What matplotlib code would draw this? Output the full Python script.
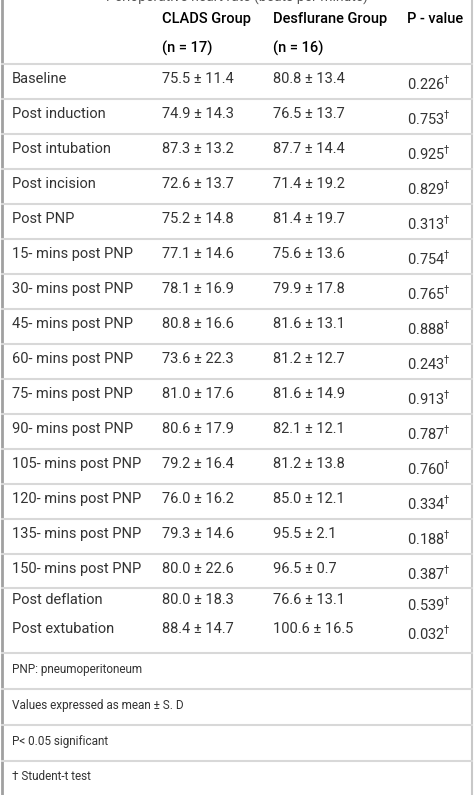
import matplotlib.pyplot as plt

plt.rcParams['font.family'] = ['Roboto', 'DejaVu Sans']

labels = ["Baseline", "Post induction", "Post intubation", "Post incision", "Post PNP",
          "15- mins post PNP", "30- mins post PNP", "45- mins post PNP", "60- mins post PNP",
          "75- mins post PNP", "90- mins post PNP", "105- mins post PNP", "120- mins post PNP",
          "135- mins post PNP", "150- mins post PNP", "Post deflation", "Post extubation"]
clads = ["75.5 ± 11.4", "74.9 ± 14.3", "87.3 ± 13.2", "72.6 ± 13.7", "75.2 ± 14.8",
         "77.1 ± 14.6", "78.1 ± 16.9", "80.8 ± 16.6", "73.6 ± 22.3", "81.0 ± 17.6",
         "80.6 ± 17.9", "79.2 ± 16.4", "76.0 ± 16.2", "79.3 ± 14.6", "80.0 ± 22.6",
         "80.0 ± 18.3", "88.4 ± 14.7"]
desf = ["80.8 ± 13.4", "76.5 ± 13.7", "87.7 ± 14.4", "71.4 ± 19.2", "81.4 ± 19.7",
        "75.6 ± 13.6", "79.9 ± 17.8", "81.6 ± 13.1", "81.2 ± 12.7", "81.6 ± 14.9",
        "82.1 ± 12.1", "81.2 ± 13.8", "85.0 ± 12.1", "95.5 ± 2.1", "96.5 ± 0.7",
        "76.6 ± 13.1", "100.6 ± 16.5"]
pvals = ["0.226", "0.753", "0.925", "0.829", "0.313", "0.754", "0.765", "0.888", "0.243",
         "0.913", "0.787", "0.760", "0.334", "0.188", "0.387", "0.539", "0.032"]
notes = ["PNP: pneumoperitoneum", "Values expressed as mean ± S. D", "P< 0.05 significant",
         "† Student-t test"]

fig = plt.figure(figsize=(4.74, 7.95), dpi=100)
ax = fig.add_axes([0, 0, 1, 1])
ax.set_xlim(0, 474)
ax.set_ylim(795, 0)
ax.axis('off')

line = dict(color='#d8d8d8', lw=1.5)
ax.plot([2, 2], [0, 795], color='#a0a0a0', lw=2)
ax.plot([472, 472], [0, 795], color='#c8c8c8', lw=1.5)

# caption is cropped at the top edge in the source image
ax.text(237, -3, "Perioperative heart rate (beats per minute)", ha='center', va='center',
        fontsize=10, color='#555555')

fs = 10.5
cols = [12, 162, 273, 407]
ax.text(cols[1], 19, "CLADS Group", fontsize=fs, fontweight='medium', va='center')
ax.text(cols[2], 19, "Desflurane Group", fontsize=fs, fontweight='medium', va='center')
ax.text(cols[3], 19, "P - value", fontsize=fs, fontweight='medium', va='center')
ax.text(cols[1], 48, "(n = 17)", fontsize=fs, fontweight='medium', va='center')
ax.text(cols[2], 48, "(n = 16)", fontsize=fs, fontweight='medium', va='center')
ax.plot([2, 472], [64, 64], **line)

tc = '#333333'
for i, (lab, c, d, p) in enumerate(zip(labels, clads, desf, pvals)):
    if i < 15:
        y = 79 + 35 * i
        if i < 14:
            ax.plot([2, 472], [y + 20, y + 20], **line)
        else:
            ax.plot([2, 472], [588, 588], **line)
    else:
        y = 600 + 29 * (i - 15)
    ax.text(cols[0], y, lab, fontsize=fs, va='center', color=tc)
    ax.text(cols[1], y, c, fontsize=fs, va='center', color=tc)
    ax.text(cols[2], y, d, fontsize=fs, va='center', color=tc)
    ax.text(cols[3], y + 5, p + "$^{\\dagger}$", fontsize=fs, va='center', color=tc)

ax.plot([2, 472], [653, 653], **line)
for j, n in enumerate(notes):
    y = 669 + 36 * j
    ax.text(cols[0], y, n, fontsize=8.5, va='center', color=tc)
    if j < 3:
        ax.plot([2, 472], [689 + 36 * j, 689 + 36 * j], **line)

fig.savefig("out.png", dpi=100)
